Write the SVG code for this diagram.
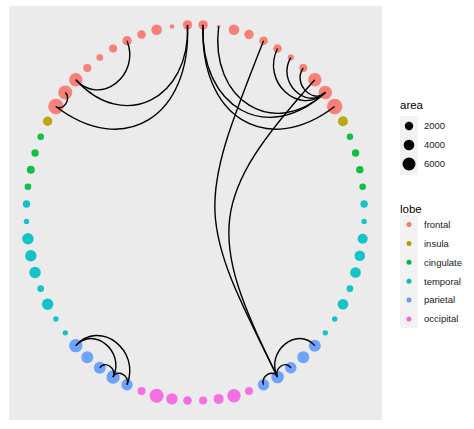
<svg xmlns="http://www.w3.org/2000/svg" width="474" height="429" viewBox="0 0 474 429">
<style>
.fr{fill:#F8766D}.in{fill:#B79F00}.ci{fill:#00BA38}.te{fill:#00BFC4}.pa{fill:#619CFF}.oc{fill:#F564E3}
.node circle{fill-opacity:0.92}
.edges path{fill:none;stroke:#000;stroke-width:1.4}
.ttl{font-family:"Liberation Sans",Arial,sans-serif;font-size:11.5px;fill:#000}
.lbl{font-family:"Liberation Sans",Arial,sans-serif;font-size:9.5px;fill:#1a1a1a}
.key{fill:#F2F2F2}
</style>
<rect x="0" y="0" width="474" height="429" fill="#fff"/>
<rect x="9" y="6" width="373" height="414" fill="#EBEBEB"/>
<g id="nodes">
<g id="R0" class="node fr"><circle cx="203.1" cy="24.9" r="4.7"/></g>
<g id="R1" class="node fr"><circle cx="218.65" cy="26.5" r="1.8"/></g>
<g id="R2" class="node fr"><circle cx="233.99" cy="29.7" r="5.3"/></g>
<g id="R3" class="node fr"><circle cx="249.01" cy="34.45" r="4.7"/></g>
<g id="R4" class="node fr"><circle cx="263.56" cy="40.71" r="4.3"/></g>
<g id="R5" class="node fr"><circle cx="277.54" cy="48.46" r="4.3"/></g>
<g id="R6" class="node fr"><circle cx="290.82" cy="57.61" r="3.0"/></g>
<g id="R7" class="node fr"><circle cx="303.29" cy="68.09" r="4.0"/></g>
<g id="R8" class="node fr"><circle cx="314.8" cy="79.76" r="6.7"/></g>
<g id="R9" class="node fr"><circle cx="325.3" cy="92.57" r="6.7"/></g>
<g id="R10" class="node fr"><circle cx="334.71" cy="106.45" r="7.7"/></g>
<g id="R11" class="node in"><circle cx="342.94" cy="121.22" r="5.0"/></g>
<g id="R12" class="node ci"><circle cx="349.9" cy="136.77" r="3.2"/></g>
<g id="R13" class="node ci"><circle cx="355.54" cy="152.95" r="3.7"/></g>
<g id="R14" class="node ci"><circle cx="359.81" cy="169.66" r="3.7"/></g>
<g id="R15" class="node ci"><circle cx="362.68" cy="186.72" r="3.3"/></g>
<g id="R16" class="node te"><circle cx="364.12" cy="204.02" r="3.7"/></g>
<g id="R17" class="node te"><circle cx="364.12" cy="221.38" r="2.7"/></g>
<g id="R18" class="node te"><circle cx="362.68" cy="238.68" r="5.0"/></g>
<g id="R19" class="node te"><circle cx="359.81" cy="255.74" r="5.3"/></g>
<g id="R20" class="node te"><circle cx="355.54" cy="272.45" r="5.3"/></g>
<g id="R21" class="node te"><circle cx="349.9" cy="288.63" r="3.3"/></g>
<g id="R22" class="node te"><circle cx="342.94" cy="304.18" r="5.3"/></g>
<g id="R23" class="node te"><circle cx="334.71" cy="318.95" r="2.7"/></g>
<g id="R24" class="node te"><circle cx="325.3" cy="332.83" r="2.7"/></g>
<g id="R25" class="node pa"><circle cx="314.8" cy="345.64" r="6.0"/></g>
<g id="R26" class="node pa"><circle cx="303.29" cy="357.31" r="6.0"/></g>
<g id="R27" class="node pa"><circle cx="290.82" cy="367.79" r="5.7"/></g>
<g id="R28" class="node pa"><circle cx="277.54" cy="376.94" r="6.3"/></g>
<g id="R29" class="node pa"><circle cx="263.56" cy="384.69" r="5.7"/></g>
<g id="R30" class="node oc"><circle cx="249.01" cy="390.95" r="4.0"/></g>
<g id="R31" class="node oc"><circle cx="233.99" cy="395.71" r="6.7"/></g>
<g id="R32" class="node oc"><circle cx="218.65" cy="398.9" r="5.0"/></g>
<g id="R33" class="node oc"><circle cx="203.1" cy="400.5" r="4.0"/></g>
<g id="L0" class="node fr"><circle cx="187.5" cy="24.9" r="4.7"/></g>
<g id="L1" class="node fr"><circle cx="171.95" cy="26.5" r="2.3"/></g>
<g id="L2" class="node fr"><circle cx="156.61" cy="29.7" r="5.3"/></g>
<g id="L3" class="node fr"><circle cx="141.59" cy="34.45" r="4.3"/></g>
<g id="L4" class="node fr"><circle cx="127.04" cy="40.71" r="4.7"/></g>
<g id="L5" class="node fr"><circle cx="113.06" cy="48.46" r="4.0"/></g>
<g id="L6" class="node fr"><circle cx="99.78" cy="57.61" r="3.3"/></g>
<g id="L7" class="node fr"><circle cx="87.31" cy="68.09" r="4.0"/></g>
<g id="L8" class="node fr"><circle cx="75.8" cy="79.76" r="6.7"/></g>
<g id="L9" class="node fr"><circle cx="65.3" cy="92.57" r="7.0"/></g>
<g id="L10" class="node fr"><circle cx="55.89" cy="106.45" r="7.7"/></g>
<g id="L11" class="node in"><circle cx="47.66" cy="121.22" r="4.7"/></g>
<g id="L12" class="node ci"><circle cx="40.7" cy="136.77" r="3.3"/></g>
<g id="L13" class="node ci"><circle cx="35.06" cy="152.95" r="3.7"/></g>
<g id="L14" class="node ci"><circle cx="30.79" cy="169.66" r="4.0"/></g>
<g id="L15" class="node ci"><circle cx="27.92" cy="186.72" r="3.3"/></g>
<g id="L16" class="node te"><circle cx="26.48" cy="204.02" r="3.7"/></g>
<g id="L17" class="node te"><circle cx="26.48" cy="221.38" r="2.7"/></g>
<g id="L18" class="node te"><circle cx="27.92" cy="238.68" r="5.7"/></g>
<g id="L19" class="node te"><circle cx="30.79" cy="255.74" r="5.7"/></g>
<g id="L20" class="node te"><circle cx="35.06" cy="272.45" r="5.7"/></g>
<g id="L21" class="node te"><circle cx="40.7" cy="288.63" r="3.3"/></g>
<g id="L22" class="node te"><circle cx="47.66" cy="304.18" r="5.7"/></g>
<g id="L23" class="node te"><circle cx="55.89" cy="318.95" r="2.7"/></g>
<g id="L24" class="node te"><circle cx="65.3" cy="332.83" r="2.7"/></g>
<g id="L25" class="node pa"><circle cx="75.8" cy="345.64" r="6.7"/></g>
<g id="L26" class="node pa"><circle cx="87.31" cy="357.31" r="6.0"/></g>
<g id="L27" class="node pa"><circle cx="99.78" cy="367.79" r="6.0"/></g>
<g id="L28" class="node pa"><circle cx="113.06" cy="376.94" r="6.7"/></g>
<g id="L29" class="node pa"><circle cx="127.04" cy="384.69" r="5.7"/></g>
<g id="L30" class="node oc"><circle cx="141.59" cy="390.95" r="4.0"/></g>
<g id="L31" class="node oc"><circle cx="156.61" cy="395.71" r="7.0"/></g>
<g id="L32" class="node oc"><circle cx="171.95" cy="398.9" r="5.7"/></g>
<g id="L33" class="node oc"><circle cx="187.5" cy="400.5" r="4.3"/></g>
</g>
<g id="edges" class="edges">
<path d="M187.5,24.9 C190.6,99.46 123.24,132.54 75.8,79.76"/>
<path d="M187.5,24.9 C191.32,116.92 124.2,158.51 55.89,106.45"/>
<path d="M127.04,40.71 C140.83,75.45 99.94,106.61 75.8,79.76"/>
<path d="M65.3,92.57 C71.93,98.7 63,111.87 55.89,106.45"/>
<path d="M203.1,24.9 C199.64,108.28 267.58,145.91 325.3,92.57"/>
<path d="M203.1,24.9 C199.28,116.92 266.4,158.51 334.71,106.45"/>
<path d="M218.65,26.5 C209.38,100.42 273.69,140.26 325.3,92.57"/>
<path d="M277.54,48.46 C260.93,81.64 299.04,116.84 325.3,92.57"/>
<path d="M290.82,57.61 C276.3,81.18 305.54,110.83 325.3,92.57"/>
<path d="M303.29,68.09 C292.33,82.77 312.1,104.76 325.3,92.57"/>
<path d="M263.56,40.71 C196.32,210.12 196.53,215.16 277.54,376.94"/>
<path d="M314.8,79.76 C209.88,196.48 205.33,232.74 277.54,376.94"/>
<path d="M314.8,345.64 C296.64,325.43 265.04,351.98 277.54,376.94"/>
<path d="M290.82,367.79 C285.95,359.88 273.35,368.56 277.54,376.94"/>
<path d="M277.54,376.94 C273.35,368.56 260.08,375.92 263.56,384.69"/>
<path d="M75.8,345.64 C93.96,325.43 125.56,351.98 113.06,376.94"/>
<path d="M75.8,345.64 C99.94,318.79 140.83,349.95 127.04,384.69"/>
<path d="M99.78,367.79 C104.65,359.88 117.25,368.56 113.06,376.94"/>
<path d="M113.06,376.94 C117.25,368.56 130.52,375.92 127.04,384.69"/>
</g>
<g id="legend-area">
<text class="ttl" x="400" y="108.5">area</text>
<rect class="key" x="400" y="116" width="18" height="59"/>
<circle cx="409" cy="126" r="4.2" fill="#000"/>
<circle cx="409" cy="145" r="5.3" fill="#000"/>
<circle cx="409" cy="164" r="6.5" fill="#000"/>
<text class="lbl" x="424" y="129.3">2000</text>
<text class="lbl" x="424" y="148.3">4000</text>
<text class="lbl" x="424" y="167.2">6000</text>
</g>
<g id="legend-lobe">
<text class="ttl" x="400" y="212.5">lobe</text>
<rect class="key" x="400" y="215" width="18" height="113"/>
<circle class="fr" cx="409" cy="224.5" r="2.5"/>
<circle class="in" cx="409" cy="243.4" r="2.5"/>
<circle class="ci" cx="409" cy="262.3" r="2.5"/>
<circle class="te" cx="409" cy="281.2" r="2.5"/>
<circle class="pa" cx="409" cy="300.1" r="2.5"/>
<circle class="oc" cx="409" cy="319" r="2.5"/>
<text class="lbl" x="424" y="227.8">frontal</text>
<text class="lbl" x="424" y="246.7">insula</text>
<text class="lbl" x="424" y="265.6">cingulate</text>
<text class="lbl" x="424" y="284.5">temporal</text>
<text class="lbl" x="424" y="303.4">parietal</text>
<text class="lbl" x="424" y="322.3">occipital</text>
</g>
</svg>
